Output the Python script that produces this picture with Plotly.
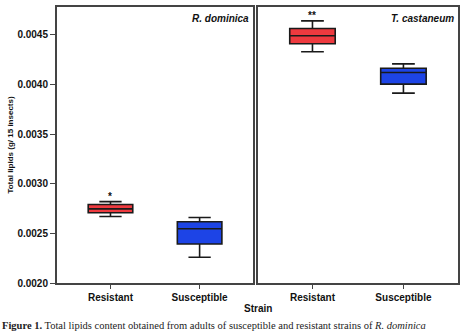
import plotly.graph_objects as go

categories = ["Resistant", "Susceptible"]
species = ["R. dominica", "T. castaneum"]

# per-species box statistics (Resistant, Susceptible)
rd_lower = [0.00267, 0.00226]
rd_q1 = [0.002707, 0.002393]
rd_median = [0.002747, 0.002547]
rd_q3 = [0.00279, 0.002617]
rd_upper = [0.00282, 0.00266]

tc_lower = [0.00433, 0.003913]
tc_q1 = [0.00441, 0.004003]
tc_median = [0.00449, 0.00412]
tc_q3 = [0.004563, 0.004163]
tc_upper = [0.00464, 0.004207]

sig_labels = ["*", "**"]
sig_values = [0.00287, 0.00469]

y_ticks = [0.0020, 0.0025, 0.0030, 0.0035, 0.0040, 0.0045]

fill_colors = ["#EE3A3F", "#1D44E6"]

fig = go.Figure()

panels = [
    ("x", "y", rd_lower, rd_q1, rd_median, rd_q3, rd_upper),
    ("x2", "y2", tc_lower, tc_q1, tc_median, tc_q3, tc_upper),
]
for xa, ya, lo, q1, med, q3, up in panels:
    for i, cat in enumerate(categories):
        fig.add_trace(go.Box(
            x=[cat], q1=[q1[i]], median=[med[i]], q3=[q3[i]],
            lowerfence=[lo[i]], upperfence=[up[i]],
            xaxis=xa, yaxis=ya,
            fillcolor=fill_colors[i],
            line=dict(color="#1a1a1a", width=1.6),
            width=0.5, whiskerwidth=0.5,
            boxpoints=False, showlegend=False, hoverinfo="skip",
        ))

axis_font = dict(family="Liberation Sans, Arial", size=10, color="#111")

xcommon = dict(
    type="category", categoryorder="array", categoryarray=categories,
    range=[-0.6, 1.6], showline=True, mirror=True, linecolor="#444",
    linewidth=2, ticks="outside", ticklen=4, tickcolor="#444",
    tickfont=dict(family="Liberation Sans, Arial", size=10, color="#111"),
    showgrid=False, zeroline=False, fixedrange=True,
)
ycommon = dict(
    range=[0.0020, 0.00478], showline=True, mirror=True, linecolor="#444",
    linewidth=2, showgrid=False, zeroline=False,
)

fig.update_layout(
    width=474, height=333,
    margin=dict(l=57, r=16, t=5, b=50),
    plot_bgcolor="white", paper_bgcolor="white",
    xaxis=dict(domain=[0, 0.489], **xcommon),
    xaxis2=dict(domain=[0.501, 1], anchor="y2", **xcommon),
    yaxis=dict(
        tickvals=y_ticks, ticktext=[f"<b>{v:.4f}</b>" for v in y_ticks],
        ticks="outside", ticklen=5, tickcolor="#444",
        tickfont=axis_font,
        title=dict(text="<b>Total lipids (g/ 15 insects)</b>",
                   font=dict(family="Liberation Sans, Arial", size=8, color="#111"),
                   standoff=3),
        **ycommon,
    ),
    yaxis2=dict(anchor="x2", matches="y", showticklabels=False, ticks="", **ycommon),
)

fig.update_xaxes(ticktext=[f"<b>{c}</b>" for c in categories], tickvals=categories)

# species labels
for xr, name in [("x domain", species[0]), ("x2 domain", species[1])]:
    fig.add_annotation(
        xref=xr, yref="y domain", x=0.99, y=0.985, xanchor="right", yanchor="top",
        text=f"<b><i>{name}</i></b>", showarrow=False,
        font=dict(family="Liberation Sans, Arial", size=10, color="#111"),
    )

# significance marks
for xa, ya, lab, val in [("x", "y", sig_labels[0], sig_values[0]),
                         ("x2", "y2", sig_labels[1], sig_values[1])]:
    fig.add_annotation(
        xref=xa, yref=ya, x=categories[0], y=val, text=f"<b>{lab}</b>",
        showarrow=False, yanchor="middle",
        font=dict(family="Liberation Sans, Arial", size=10, color="#111"),
    )

# x-axis title
fig.add_annotation(
    xref="paper", yref="paper", x=(258 - 57) / 401, y=(283 - 309) / 278,
    text="<b>Strain</b>", showarrow=False, xanchor="center", yanchor="middle",
    font=dict(family="Liberation Sans, Arial", size=10, color="#111"),
)

# caption
fig.add_annotation(
    xref="paper", yref="paper", x=-57 / 401, y=(283 - 326) / 278,
    text="<b>Figure 1.</b> Total lipids content obtained from adults of susceptible and resistant strains of <i>R. dominica</i>",
    showarrow=False, xanchor="left", yanchor="middle",
    font=dict(family="Liberation Serif, Times New Roman", size=10.5, color="#222"),
)

fig.write_html("out.html")
